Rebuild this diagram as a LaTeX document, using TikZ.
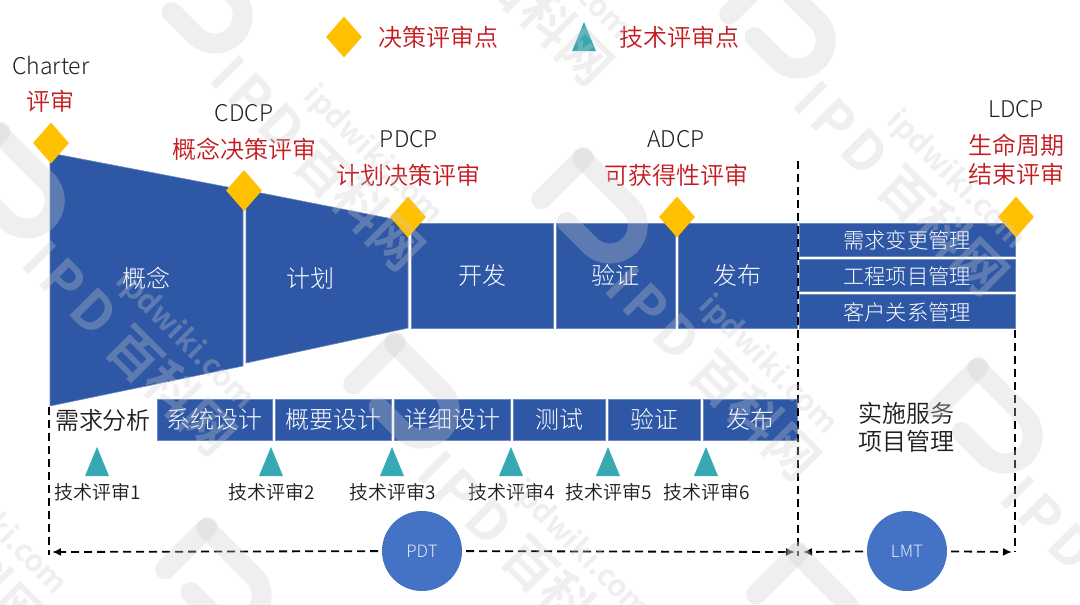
\documentclass[tikz,border=0pt]{standalone}
\usepackage{fontspec}
\setmainfont{Noto Sans CJK SC}[UprightFont=* Light,BoldFont=* Bold]
\newfontfamily\midfont{Noto Sans CJK SC DemiLight}
\usetikzlibrary{shapes.geometric,arrows.meta}
\definecolor{barblue}{HTML}{2E57A6}
\definecolor{ringblue}{HTML}{4472C4}
\definecolor{gold}{HTML}{FFC000}
\definecolor{teal}{HTML}{36A9B4}
\definecolor{redtext}{HTML}{C41A20}
\definecolor{inktext}{HTML}{1E1E1E}
\newcommand{\sz}[1]{\fontsize{#1}{#1}\selectfont}
\newcommand{\wmtile}[2]{%
	\begin{scope}[shift={(#1,#2)}, rotate=-45, transform shape]
		\draw [wmband] (-42,-33) -- (-42,27);
		\draw [wmband] (-42,-31) -- (25,-31) .. controls (40.5,-31) and (53,-18.5) .. (53,-3) .. controls (53,12.5) and (40.5,25) .. (25,25) -- (-8,25);
		\node [wmtext, font=\bfseries\sz{54}] at (66,28) {I\hspace{6pt}P\hspace{6pt}D};
		\node [wmtext, font=\bfseries\sz{52}] at (184,28) {百科网};
		\node [wmtext, font=\bfseries\sz{30}] at (145,-16) {ipdwiki.com};
	\end{scope}}
\tikzset{
	wmband/.style={line width=20pt, line cap=round},
	wmtext/.style={anchor=west, inner sep=0pt},
	barbox/.style={fill=barblue, draw=barblue!70!white, line width=0.6pt, text=white, inner sep=0pt},
	low/.style={barbox, minimum height=41pt, font=\sz{24}},
	stack/.style={barbox, minimum width=216pt, font=\sz{21.3}, text height=18.5pt, text depth=0pt},
	panel/.style={fill=barblue, draw=barblue!70!white, line width=0.6pt},
	gate/.style={diamond, fill=gold, minimum width=36pt, minimum height=41pt, inner sep=0pt},
	redlabel/.style={text=redtext, font=\midfont\sz{24}, inner sep=0pt},
	inklabel/.style={text=inktext, font=\sz{23}, inner sep=0pt},
	darklabel/.style={text=inktext, font=\midfont\sz{24}, inner sep=0pt},
	ring/.style={circle, fill=ringblue, minimum size=80pt, inner sep=0pt, outer sep=4pt, text=white!85!ringblue, font=\sz{17}},
	dashline/.style={black, line width=1.8pt, dash pattern=on 8pt off 5pt},
}
\begin{document}
\begin{tikzpicture}[>={Latex[length=9pt,width=8pt]}, x=1pt, y=-1pt]
	\clip (0,0) rectangle (1080,605);
	\fill [white] (0,0) rectangle (1080,605);
	% funnel and bars
	\draw [panel] (50,153) -- (243,190) -- (243,366) -- (50,406) -- cycle;
	\draw [panel] (246,190) -- (408,222) -- (408,328) -- (246,363) -- cycle;
	\node [barbox, font=\sz{24}, minimum width=72pt, minimum height=40pt, fill=none, draw=none] (concept) at (146,278) {概念};
	\node [barbox, font=\sz{24}, minimum width=72pt, minimum height=40pt, fill=none, draw=none] (plan) at (310,278) {计划};
	\node [barbox, font=\sz{24}, minimum width=142pt, minimum height=105pt] (develop) at (482,275.5) {开发};
	\node [barbox, font=\sz{24}, minimum width=119pt, minimum height=105pt] (verify) at (615.5,275.5) {验证};
	\node [barbox, font=\sz{24}, minimum width=119pt, minimum height=105pt] (release) at (737.5,275.5) {发布};
	\node [stack, minimum height=33pt] (change) at (907,239.5) {需求变更管理};
	\node [stack, minimum height=32pt] (project) at (907,275) {工程项目管理};
	\node [stack, minimum height=34pt] (customer) at (907,311) {客户关系管理};
	% lower row
	\node [darklabel] (analysis) at (103,420) {需求分析};
	\node [low, minimum width=115pt] (sysdes) at (214.5,419.5) {系统设计};
	\node [low, minimum width=116pt] (outline) at (333,419.5) {概要设计};
	\node [low, minimum width=116pt] (detail) at (452,419.5) {详细设计};
	\node [low, minimum width=92pt] (test) at (559,419.5) {测试};
	\node [low, minimum width=92pt] (lowverify) at (654,419.5) {验证};
	\node [low, minimum width=94pt] (lowrelease) at (750,419.5) {发布};
	\node [darklabel] (service) at (906,413) {实施服务};
	\node [darklabel] (manage) at (906,441) {项目管理};
	% technical reviews
	\foreach \n/\x in {1/97, 2/271, 3/392, 4/511, 5/608, 6/706} {
		\fill [teal] (\x,447) -- (\x+12,476) -- (\x-12,476) -- cycle;
		\node [inklabel, font=\midfont\sz{19}] (tr\n) at (\x+1,492) {技术评审\n};
	}
	% dashed frame
	\coordinate (topmid) at (798,161);
	\coordinate (botmid) at (798,556);
	\coordinate (leftfoot) at (49,555);
	\coordinate (rightfoot) at (1015,552);
	\coordinate (funnelfoot) at (49,407);
	\coordinate (stackfoot) at (1015,330);
	\draw [dashline] (topmid) -- (botmid);
	\draw [dashline] (funnelfoot) -- (leftfoot);
	\draw [dashline] (stackfoot) -- (rightfoot);
	\node [ring] (pdt) at (422,551) {PDT};
	\node [ring] (lmt) at (907,551) {LMT};
	\coordinate (pdtleft) at (52,552);
	\coordinate (pdtright) at (795,552);
	\coordinate (lmtleft) at (803,552);
	\coordinate (lmtright) at (1012,552);
	\draw [dashline, ->] (pdt) -- (pdtleft);
	\draw [dashline, ->] (pdt) -- (pdtright);
	\draw [dashline, ->] (lmt) -- (lmtleft);
	\draw [dashline, ->] (lmt) -- (lmtright);
	% decision gates
	\node [gate] (charter) at (51,143) {};
	\node [gate] (cdcp) at (244,190.5) {};
	\node [gate] (pdcp) at (408,217) {};
	\node [gate] (adcp) at (677,217) {};
	\node [gate] (ldcp) at (1016,217) {};
	\node [inklabel] at (51,66) {Charter};
	\node [redlabel] at (51,101) {评审};
	\node [inklabel] at (244,113) {CDCP};
	\node [redlabel] at (244,149) {概念决策评审};
	\node [inklabel] at (409,139) {PDCP};
	\node [redlabel] at (408,175) {计划决策评审};
	\node [inklabel] at (676,139) {ADCP};
	\node [redlabel] at (676,175) {可获得性评审};
	\node [inklabel] at (1016,109) {LDCP};
	\node [redlabel] at (1016,145) {生命周期};
	\node [redlabel] at (1016,174) {结束评审};
	% legend
	\node [gate] (keygate) at (344,37) {};
	\node [redlabel] at (438,37) {决策评审点};
	\fill [teal] (584,22) -- (596,51) -- (572,51) -- cycle;
	\node [redlabel] at (679,37) {技术评审点};
	% watermark
	\begin{scope}[black!20, opacity=0.3, every node/.style={text=black!20}]
		\foreach \tx/\ty in {-181/370, 7/185, 195/0, 383/-185, 214/580, 402/395, 590/210, 778/25, 805/605, 985/420} {
			\wmtile{\tx}{\ty}
		}
	\end{scope}
\end{tikzpicture}
\end{document}
